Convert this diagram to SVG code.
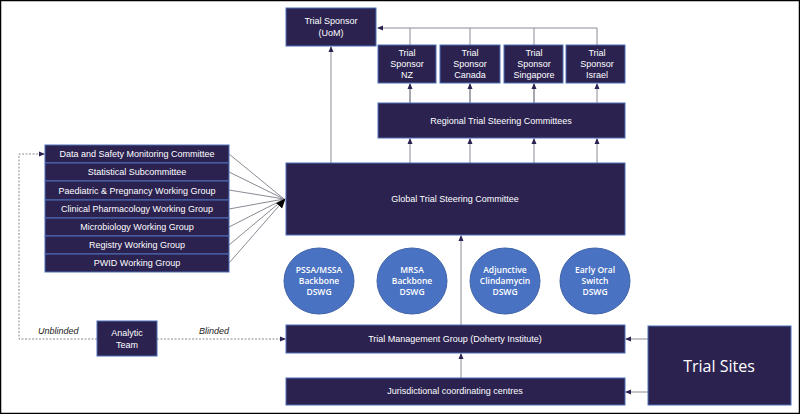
<svg xmlns="http://www.w3.org/2000/svg" width="800" height="414" viewBox="0 0 800 414">
<style>
.b{fill:#2b2250;stroke:#4e6fb8;stroke-width:1}
.c{fill:#4a72c2;stroke:#3f63a8;stroke-width:1}
.t{font-family:"Liberation Sans",Arial,sans-serif;font-size:9px;fill:#fff;text-anchor:middle}
.ct{font-family:"Open Sans","Liberation Sans",sans-serif;font-size:8.5px;fill:#fff;text-anchor:middle;font-weight:600}
.l{stroke:#8a8a95;stroke-width:1;fill:none}
.d{stroke:#8a8a95;stroke-width:1;fill:none;stroke-dasharray:2,1.5}
.i{font-family:"Liberation Sans",Arial,sans-serif;font-size:9px;font-style:italic;fill:#222}
</style>
<defs>
<marker id="a" markerWidth="6" markerHeight="6" refX="5" refY="3" orient="auto" markerUnits="userSpaceOnUse"><path d="M0,0.5L6,3L0,5.5z" fill="#2b2250"/></marker>
<marker id="A" markerWidth="10" markerHeight="10" refX="9" refY="5" orient="auto" markerUnits="userSpaceOnUse"><path d="M0,1L10,5L0,9z" fill="#000"/></marker>
</defs>
<rect x="0.5" y="0.5" width="799" height="413" fill="#fff" stroke="#000" stroke-width="1.5"/>
<g id="connectors">
<path class="l" d="M597,45V28H378" marker-end="url(#a)"/>
<path class="l" d="M410,45V28M470,45V28M534,45V28"/>
<path class="l" d="M410,103V84M470,103V84M534,103V84M597,103V84" marker-end="url(#a)"/>
<path class="l" d="M410,103V84" marker-end="url(#a)"/><path class="l" d="M470,103V84" marker-end="url(#a)"/><path class="l" d="M534,103V84" marker-end="url(#a)"/>
<path class="l" d="M410,163V139" marker-end="url(#a)"/><path class="l" d="M470,163V139" marker-end="url(#a)"/><path class="l" d="M534,163V139" marker-end="url(#a)"/><path class="l" d="M597,163V139" marker-end="url(#a)"/>
<path class="l" d="M331,163V47" marker-end="url(#a)"/>
<path class="l" d="M461,325V236" marker-end="url(#a)"/>
<path class="l" d="M461,378V354" marker-end="url(#a)"/>
<path class="l" d="M648,339H626" marker-end="url(#a)"/>
<path class="l" d="M648,392H626" marker-end="url(#a)"/>
<path class="l" d="M229,154L284,199M229,172L284,199M229,190L284,199M229,209L284,199M229,227L284,199M229,245L284,199"/>
<path class="l" d="M229,263L285,199" marker-end="url(#A)"/>
<path class="d" d="M157,339H285" marker-end="url(#a)"/>
<path class="d" d="M97,339H19V154H44" marker-end="url(#a)"/>
</g>
<text class="i" x="38" y="334">Unblinded</text>
<text class="i" x="199" y="334">Blinded</text>
<g id="uom"><rect class="b" x="286" y="8" width="90" height="38"/><text class="t" x="331" y="24">Trial Sponsor</text><text class="t" x="331" y="36">(UoM)</text></g>
<g id="nz"><rect class="b" x="378" y="45" width="58" height="38"/><text class="t" x="407" y="56">Trial</text><text class="t" x="407" y="67">Sponsor</text><text class="t" x="407" y="78">NZ</text></g>
<g id="canada"><rect class="b" x="440" y="45" width="60" height="38"/><text class="t" x="470" y="56">Trial</text><text class="t" x="470" y="67">Sponsor</text><text class="t" x="470" y="78">Canada</text></g>
<g id="singapore"><rect class="b" x="504" y="45" width="59" height="38"/><text class="t" x="534" y="56">Trial</text><text class="t" x="534" y="67">Sponsor</text><text class="t" x="534" y="78">Singapore</text></g>
<g id="israel"><rect class="b" x="566" y="45" width="59" height="38"/><text class="t" x="597" y="56">Trial</text><text class="t" x="597" y="67">Sponsor</text><text class="t" x="597" y="78">Israel</text></g>
<g id="regional"><rect class="b" x="378" y="103" width="247" height="35"/><text class="t" x="501" y="124">Regional Trial Steering Committees</text></g>
<g id="global"><rect class="b" x="286" y="163" width="339" height="72"/><text class="t" x="455" y="202">Global Trial Steering Committee</text></g>
<g id="dsmc"><rect class="b" x="45" y="145" width="184" height="18"/><text class="t" x="137" y="157">Data and Safety Monitoring Committee</text></g>
<g id="stat"><rect class="b" x="45" y="163" width="184" height="18"/><text class="t" x="137" y="175">Statistical Subcommittee</text></g>
<g id="paed"><rect class="b" x="45" y="181" width="184" height="19"/><text class="t" x="137" y="194">Paediatric &amp; Pregnancy Working Group</text></g>
<g id="clin"><rect class="b" x="45" y="200" width="184" height="18"/><text class="t" x="137" y="212">Clinical Pharmacology Working Group</text></g>
<g id="micro"><rect class="b" x="45" y="218" width="184" height="18"/><text class="t" x="137" y="230">Microbiology Working Group</text></g>
<g id="registry"><rect class="b" x="45" y="236" width="184" height="18"/><text class="t" x="137" y="248">Registry Working Group</text></g>
<g id="pwid"><rect class="b" x="45" y="254" width="184" height="18"/><text class="t" x="137" y="266">PWID Working Group</text></g>
<g id="c1"><ellipse class="c" cx="319" cy="281" rx="35" ry="33"/><text class="ct" x="319" y="273">PSSA/MSSA</text><text class="ct" x="319" y="284">Backbone</text><text class="ct" x="319" y="295">DSWG</text></g>
<g id="c2"><ellipse class="c" cx="412" cy="281" rx="35" ry="33"/><text class="ct" x="412" y="273">MRSA</text><text class="ct" x="412" y="284">Backbone</text><text class="ct" x="412" y="295">DSWG</text></g>
<g id="c3"><ellipse class="c" cx="505" cy="281" rx="35" ry="33"/><text class="ct" x="505" y="273">Adjunctive</text><text class="ct" x="505" y="284">Clindamycin</text><text class="ct" x="505" y="295">DSWG</text></g>
<g id="c4"><ellipse class="c" cx="595" cy="281" rx="35" ry="33"/><text class="ct" x="595" y="273">Early Oral</text><text class="ct" x="595" y="284">Switch</text><text class="ct" x="595" y="295">DSWG</text></g>
<g id="analytic"><rect class="b" x="97" y="321" width="60" height="35"/><text class="t" x="127" y="336">Analytic</text><text class="t" x="127" y="348">Team</text></g>
<g id="tmg"><rect class="b" x="286" y="325" width="339" height="28"/><text class="t" x="455" y="342">Trial Management Group (Doherty Institute)</text></g>
<g id="jcc"><rect class="b" x="286" y="378" width="339" height="27"/><text class="t" x="455" y="394">Jurisdictional coordinating centres</text></g>
<g id="sites"><rect class="b" x="648" y="326" width="143" height="79"/><text x="719" y="372" font-family="'Open Sans','Liberation Sans',sans-serif" font-size="16" fill="#fff" text-anchor="middle">Trial Sites</text></g>
</svg>
